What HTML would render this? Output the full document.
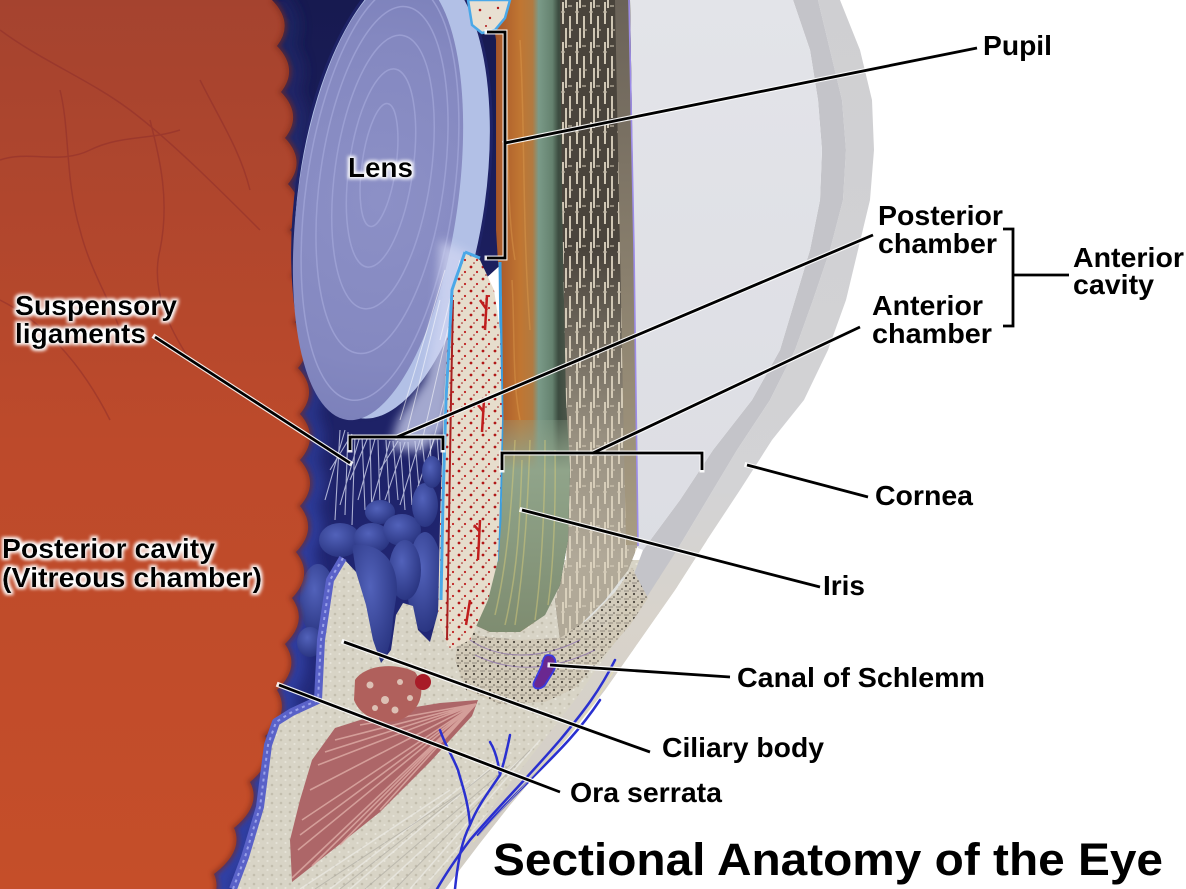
<!DOCTYPE html>
<html><head><meta charset="utf-8"><style>
html,body{margin:0;padding:0;background:#fff;}
svg{display:block;}
text{font-family:"Liberation Sans",Arial,sans-serif;font-weight:bold;fill:#000;}
</style></head><body>
<svg width="1186" height="889" viewBox="0 0 1186 889" xmlns="http://www.w3.org/2000/svg">
<defs>
<linearGradient id="gOr" x1="0" y1="0" x2="0" y2="889" gradientUnits="userSpaceOnUse">
<stop offset="0" stop-color="#a5432f"/><stop offset="0.5" stop-color="#bd4a2b"/><stop offset="1" stop-color="#c54e29"/></linearGradient>
<linearGradient id="gNavy" x1="0" y1="0" x2="0" y2="889" gradientUnits="userSpaceOnUse">
<stop offset="0" stop-color="#171a50"/><stop offset="0.5" stop-color="#1e2268"/><stop offset="1" stop-color="#252e88"/></linearGradient>
<linearGradient id="gGlow" x1="0" y1="0" x2="0" y2="889" gradientUnits="userSpaceOnUse">
<stop offset="0" stop-color="#1e2462"/><stop offset="0.35" stop-color="#26307e"/><stop offset="0.6" stop-color="#3040a2"/><stop offset="1" stop-color="#3444aa"/></linearGradient>
<radialGradient id="gLens" cx="380" cy="200" r="230" gradientUnits="userSpaceOnUse">
<stop offset="0" stop-color="#8c90c6"/><stop offset="0.7" stop-color="#8488c0"/><stop offset="1" stop-color="#7b80ba"/></radialGradient>
<linearGradient id="gIris" x1="490" y1="0" x2="566" y2="0" gradientUnits="userSpaceOnUse">
<stop offset="0" stop-color="#7a3c22"/><stop offset="0.1" stop-color="#a8582a"/><stop offset="0.4" stop-color="#c07632"/><stop offset="0.56" stop-color="#b27a40"/><stop offset="0.64" stop-color="#7a9a88"/><stop offset="0.82" stop-color="#65826f"/><stop offset="0.9" stop-color="#3c4c40"/><stop offset="1" stop-color="#4a5448"/></linearGradient>
<linearGradient id="gBulb" x1="0" y1="400" x2="0" y2="635" gradientUnits="userSpaceOnUse">
<stop offset="0" stop-color="#8ea28a" stop-opacity="0"/><stop offset="0.3" stop-color="#90a48a" stop-opacity="1"/><stop offset="1" stop-color="#7e8c70"/></linearGradient>
<linearGradient id="gOuter" x1="0" y1="0" x2="0" y2="889" gradientUnits="userSpaceOnUse">
<stop offset="0" stop-color="#cfcfd2"/><stop offset="0.55" stop-color="#d3d3d5"/><stop offset="0.7" stop-color="#d8d3cb"/><stop offset="1" stop-color="#d2cdc4"/></linearGradient>
<linearGradient id="gAC" x1="0" y1="0" x2="0" y2="560" gradientUnits="userSpaceOnUse">
<stop offset="0" stop-color="#e3e4e9"/><stop offset="1" stop-color="#dcdde3"/></linearGradient>
<linearGradient id="gTexLight" x1="0" y1="250" x2="0" y2="560" gradientUnits="userSpaceOnUse">
<stop offset="0" stop-color="#d8ceb8" stop-opacity="0"/><stop offset="0.6" stop-color="#d8ceb8" stop-opacity="0.55"/><stop offset="1" stop-color="#ddd4c0" stop-opacity="0.7"/></linearGradient>
<linearGradient id="gStrip" x1="0" y1="0" x2="0" y2="545" gradientUnits="userSpaceOnUse">
<stop offset="0" stop-color="#6a6258"/><stop offset="1" stop-color="#a89c82"/></linearGradient>
<radialGradient id="gBlob" cx="0.4" cy="0.35" r="0.7">
<stop offset="0" stop-color="#5262ba"/><stop offset="1" stop-color="#28337f"/></radialGradient>
<pattern id="tex" width="14" height="40" patternUnits="userSpaceOnUse">
<rect width="14" height="40" fill="#4a443c"/>
<path d="M3 2V24M10 16V38M6 28V40M6 0V8" stroke="#cfc6b4" stroke-width="2"/>
<path d="M1 12H5M8 6H12M9 30H13" stroke="#bdb4a2" stroke-width="1.2"/>
</pattern>
<pattern id="dots" width="12" height="12" patternUnits="userSpaceOnUse">
<rect width="12" height="12" fill="#e6ddcc"/>
<circle cx="3" cy="3" r="1.4" fill="#b01818"/><circle cx="9" cy="8" r="1.1" fill="#c02020"/><circle cx="6" cy="11" r="0.8" fill="#a01818"/>
</pattern>
<pattern id="mot" width="9" height="9" patternUnits="userSpaceOnUse">
<rect width="9" height="9" fill="#d8d4c6"/>
<circle cx="2" cy="2" r="1.3" fill="#c3beae"/><circle cx="6.5" cy="6" r="1.1" fill="#e6e3d8"/>
</pattern>
<pattern id="spong" width="8" height="8" patternUnits="userSpaceOnUse">
<rect width="8" height="8" fill="#d2cab8"/>
<circle cx="2" cy="2" r="1.1" fill="#3a342c"/><circle cx="6" cy="5" r="0.8" fill="#4a4238"/><path d="M0 7H5" stroke="#6a6258" stroke-width="0.7"/>
</pattern>
<filter id="blur6" x="-20%" y="-5%" width="140%" height="110%"><feGaussianBlur stdDeviation="6"/></filter>
<filter id="blur2"><feGaussianBlur stdDeviation="2"/></filter>
<filter id="blur5" x="-30%" y="-30%" width="160%" height="160%"><feGaussianBlur stdDeviation="5"/></filter>
<filter id="halo" x="-20%" y="-50%" width="140%" height="200%">
<feMorphology in="SourceAlpha" operator="dilate" radius="2" result="d"/>
<feGaussianBlur in="d" stdDeviation="1.5" result="b"/>
<feFlood flood-color="#ffffff"/>
<feComposite in2="b" operator="in" result="w"/>
<feMerge><feMergeNode in="w"/><feMergeNode in="SourceGraphic"/></feMerge>
</filter>
<clipPath id="cTex"><path d="M558 0 L630 0 L635 300 L638 545 L628 570 L605 600 L580 625 L560 640 L555 600 L566 560 L568 480 L565 400 L560 250 Z"/></clipPath>
</defs>

<rect width="1186" height="889" fill="#fff"/>

<!-- navy background -->
<path d="M150,-5 L512,-5 L506,260 L462,300 L448,560 L448,690 L350,690 L320,720 L272,889 L150,895 Z" fill="url(#gNavy)"/>

<!-- glow along orange edge -->
<path d="M272,0 Q294.5,23 277,46 Q299,69 281,92 Q303,115 285,138 Q306.5,161 288,184 Q309,207 290,230 Q311.5,253 293,276 Q314,299 295,322 Q316.5,345 298,368 Q319,391 300,414 Q320,437 300,460 Q320,483 300,506 Q318,529 296,552 Q314,575 292,598 Q308.5,621 285,644 Q301,667 277,690 Q291,713 265,736 Q277.5,759 250,782 Q262,805 234,828 Q244,851 214,874 Q224,897 194,920" fill="none" stroke="url(#gGlow)" stroke-width="30" opacity="0.85" filter="url(#blur6)"/>

<!-- suspensory ligament fibers -->
<g stroke="#e8ecff" stroke-width="1.1" opacity="0.7" fill="none">
<path d="M340 430L335 520M348 432L345 515M355 435L352 525M362 436L365 510M370 438L372 520M378 440L380 505M386 440L390 515M393 441L398 500M400 442L405 510M408 442L412 505M415 441L420 500M422 440L428 495M430 438L432 490M437 436L440 480M345 430L325 500M360 436L340 505M375 439L358 500M390 441L370 510M405 442L385 500M420 440L400 505M435 437L415 495M352 434L330 470M368 437L350 480M398 441L380 470"/>
</g>

<!-- blue blobs (ciliary processes) -->
<g fill="url(#gBlob)">
<ellipse cx="318" cy="600" rx="18" ry="36"/>
<ellipse cx="310" cy="642" rx="13" ry="15"/>
<ellipse cx="340" cy="540" rx="21" ry="17"/>
<ellipse cx="372" cy="538" rx="18" ry="15"/>
<ellipse cx="380" cy="512" rx="15" ry="12"/>
<ellipse cx="402" cy="530" rx="19" ry="16"/>
<ellipse cx="425" cy="505" rx="13" ry="22"/>
<ellipse cx="432" cy="472" rx="10" ry="16"/>
<ellipse cx="425" cy="582" rx="18" ry="50"/>
<ellipse cx="405" cy="570" rx="16" ry="30"/>
<path d="M352 545 C380 542 398 560 397 592 L393 618 C392 642 386 660 380 664 C372 650 366 622 360 600 Z"/>
</g>

<!-- orange region -->
<path d="M-10,-10 L272,-10 L272,0 Q294.5,23 277,46 Q299,69 281,92 Q303,115 285,138 Q306.5,161 288,184 Q309,207 290,230 Q311.5,253 293,276 Q314,299 295,322 Q316.5,345 298,368 Q319,391 300,414 Q320,437 300,460 Q320,483 300,506 Q318,529 296,552 Q314,575 292,598 Q308.5,621 285,644 Q301,667 277,690 Q291,713 265,736 Q277.5,759 250,782 Q262,805 234,828 Q244,851 214,874 Q224,897 194,920 L-10,920 Z" fill="url(#gOr)"/>
<path d="M272,0 Q294.5,23 277,46 Q299,69 281,92 Q303,115 285,138 Q306.5,161 288,184 Q309,207 290,230 Q311.5,253 293,276 Q314,299 295,322 Q316.5,345 298,368 Q319,391 300,414 Q320,437 300,460 Q320,483 300,506 Q318,529 296,552 Q314,575 292,598 Q308.5,621 285,644 Q301,667 277,690 Q291,713 265,736 Q277.5,759 250,782 Q262,805 234,828 Q244,851 214,874 Q224,897 194,920" fill="none" stroke="#7e2a1e" stroke-width="5" opacity="0.6" filter="url(#blur2)"/>
<!-- faint veins -->
<g fill="none" stroke="#8a2a2a" stroke-width="1.5" opacity="0.45">
<path d="M0 30 C40 60 90 80 130 110 C170 140 220 190 260 230"/>
<path d="M0 160 C30 150 60 165 90 150 C120 135 150 140 180 130"/>
<path d="M60 90 C70 130 65 180 80 230 C90 270 110 300 120 330"/>
<path d="M150 120 C160 160 170 200 160 250 C150 290 170 330 190 360"/>
<path d="M0 300 C40 320 80 360 110 420"/>
<path d="M200 80 C220 120 240 150 250 190"/>
</g>

<!-- beige ciliary body / sclera lower region -->
<path d="M343 558 L356 572 L366 605 L373 640 L381 663 L391 650 L396 615 L403 603 L413 606 L418 630 L430 642 L438 612 L442 560 L505 560 L640 560 L707 540 L675 590 L640 640 L605 690 L570 735 L540 770 L510 805 L480 843 L445 889 L233 889 L245 857 L260 807 L268 745 L276 722 L292 712 L318 702 L321 640 L330 580 Z" fill="url(#mot)"/>
<!-- fibrous streaks lower -->
<g stroke="#ecebe6" stroke-width="1.5" opacity="0.7" fill="none">
<path d="M520 760 L380 889M500 760 L350 889M540 740 L410 889M470 780 L330 889M560 730 L430 880M450 790 L300 889"/>
</g>
<g stroke="#aaa69e" stroke-width="1" opacity="0.6" fill="none">
<path d="M510 765 L365 889M490 770 L340 889M530 750 L395 889M465 790 L315 889"/>
</g>
<!-- retina band along sclera edge -->
<path d="M343,558 L330,580 L321,640 L318,700 L292,712 L276,722 L268,745 L260,807 L245,857 L233,889" fill="none" stroke="#5a62c8" stroke-width="8" stroke-linejoin="round"/>
<path d="M343,558 L330,580 L321,640 L318,700 L292,712 L276,722 L268,745 L260,807 L245,857 L233,889" fill="none" stroke="#9aa2ea" stroke-width="2" stroke-dasharray="3 4"/>

<!-- muscle fan -->
<path d="M478,700 L440,703 L385,712 L335,728 L312,760 L300,800 L290,840 L292,882 L330,852 L380,812 L430,762 L472,716 Z" fill="#ad6668"/>
<g stroke="#dba8a2" stroke-width="1.6" opacity="0.85" fill="none">
<path d="M476 704L292 878M476 704L298 850M476 704L302 820M476 704L310 790M476 704L318 765M476 704L335 740M476 704L360 725M476 704L312 866M476 704L340 845M476 704L380 810M476 704L300 835M476 704L325 752"/>
</g>
<!-- red mottled patch -->
<path d="M355 680 C365 665 395 662 415 672 C428 690 420 712 400 720 C380 726 360 716 354 700 Z" fill="#b0605c"/>
<g fill="#dcc0b4"><circle cx="370" cy="685" r="3.5"/><circle cx="385" cy="700" r="4"/><circle cx="400" cy="682" r="3"/><circle cx="395" cy="710" r="3.5"/><circle cx="375" cy="708" r="3"/><circle cx="410" cy="698" r="3"/></g>
<ellipse cx="423" cy="682" rx="8" ry="8" fill="#a81c28"/>

<!-- cornea outer band -->
<path d="M840,0 L860,50 L872,100 L874,150 L870,200 L858,250 L846,300 L828,350 L804,400 L772,440 L740,490 L707,540 L675,590 L640,640 L605,690 L570,735 L540,770 L510,805 L480,843 L445,889 L428,889 L445,870 L475,830 L505,790 L540,745 L575,700 L610,650 L645,600 L677,550 L707,500 L737,450 L770,400 L795,350 L813,300 L830,250 L843,200 L846,150 L842,100 L818,0 Z" fill="url(#gOuter)"/>
<!-- cornea inner darker band -->
<path d="M818,0 L842,100 L846,150 L843,200 L830,250 L813,300 L795,350 L770,400 L737,450 L707,500 L677,550 L645,600 L628,590 L643,550 L680,500 L713,450 L752,400 L780,350 L795,300 L810,250 L820,200 L822,150 L818,100 L810,50 L793,0 Z" fill="#c4c4c9"/>
<!-- anterior chamber light -->
<path d="M628,0 L793,0 L810,50 L818,100 L822,150 L820,200 L810,250 L795,300 L780,350 L752,400 L713,450 L680,500 L643,550 L638,548 L635,300 Z" fill="url(#gAC)"/>
<ellipse cx="605" cy="605" rx="14" ry="34" transform="rotate(35 605 605)" fill="#e6e9ef" opacity="0.6"/>

<!-- textured band -->
<path d="M558 0 L630 0 L635 300 L638 545 L628 570 L605 600 L580 625 L560 640 L555 600 L566 560 L568 480 L565 400 L560 250 Z" fill="url(#tex)"/>
<rect x="550" y="250" width="95" height="400" fill="url(#gTexLight)" clip-path="url(#cTex)"/>
<path d="M615,0 L630,0 L635,300 L638,545 L626,545 L621,300 Z" fill="url(#gStrip)"/>
<path d="M629 0 L634 250 L638 546" fill="none" stroke="#9c8ce8" stroke-width="1.6"/>

<!-- spongy trabecular region -->
<path d="M460 620 L480 636 L520 640 L560 638 L590 618 L615 592 L632 568 L648 598 L630 625 L600 660 L575 688 L545 702 L500 704 L466 690 L455 660 Z" fill="url(#spong)" opacity="0.9"/>
<g stroke="#7a5aa8" stroke-width="1" opacity="0.6" fill="none"><path d="M470 640 C500 660 540 660 580 640M475 655 C510 672 550 672 595 650"/></g>

<!-- iris -->
<path d="M490 0 L560 0 L562 200 L566 400 L570 470 L568 540 L560 585 L545 615 L520 632 L490 632 L468 622 L470 605 L485 585 L497 560 L502 500 L502 300 L498 262 L496 230 L496 40 Z" fill="url(#gIris)"/>
<path d="M500 420 L568 420 L570 470 L568 540 L560 585 L545 615 L520 632 L490 632 L468 622 L470 605 L485 585 L497 560 L502 500 Z" fill="url(#gBulb)"/>
<g stroke="#d6cc7a" stroke-width="1.5" opacity="0.5" fill="none">
<path d="M515 440 C512 500 508 560 495 615M530 440 C528 500 525 560 515 625M545 440 C545 500 542 570 535 620M555 450 C556 510 553 570 548 605M522 460 C520 520 518 570 505 625"/>
</g>
<g stroke="#e0a050" stroke-width="1.5" opacity="0.4" fill="none">
<path d="M505 60 C510 120 505 200 515 260M520 40 C525 120 522 220 530 330M512 280 C515 330 512 380 520 420"/>
</g>
<path d="M500 262 L502 420 L500 520 L497 560 L485 585 L470 605 L466 620" fill="none" stroke="#3a9ee0" stroke-width="3"/>

<!-- lens -->
<ellipse cx="392" cy="192" rx="95" ry="230" transform="rotate(8 392 192)" fill="#b2c0e6" stroke="#1e2266" stroke-width="3"/>
<ellipse cx="378" cy="198" rx="80" ry="224" transform="rotate(8 378 198)" fill="url(#gLens)"/>
<g fill="none" stroke="#a4a8da" stroke-width="1.5" opacity="0.7">
<ellipse cx="379" cy="165" rx="17" ry="62" transform="rotate(8 379 165)"/>
<ellipse cx="381" cy="168" rx="32" ry="100" transform="rotate(8 381 168)"/>
<ellipse cx="383" cy="172" rx="48" ry="138" transform="rotate(8 383 172)"/>
<ellipse cx="382" cy="180" rx="62" ry="175" transform="rotate(8 382 180)"/>
<ellipse cx="380" cy="192" rx="74" ry="210" transform="rotate(8 380 192)"/>
</g>
<!-- light fiber zone near lens bottom right -->
<path d="M440,240 L472,255 L466,300 L455,360 L446,430 L420,452 L390,448 L398,420 L425,380 L438,300 Z" fill="#d0d5f2" opacity="0.75" filter="url(#blur5)"/>
<g stroke="#ffffff" stroke-width="1" opacity="0.55" fill="none">
<path d="M440 300 L405 440M450 320 L420 450M455 360 L430 452M445 270 L400 420M460 260 L440 340"/>
</g>

<!-- ciliary column with red dots -->
<path d="M465,252 L480,260 L494,290 L500,330 L502,420 L500,500 L498,560 L488,600 L470,640 L450,650 L438,620 L440,520 L444,400 L450,300 Z" fill="url(#dots)"/>
<path d="M453 300 L451 400 L449 520 L447 640" fill="none" stroke="#a82020" stroke-width="2"/>
<g stroke="#c01e1e" stroke-width="2.5" fill="none">
<path d="M487 295 L485 330M480 300 L487 310M484 400 L482 432M478 405 L484 412M480 520 L478 560M474 525 L480 532M470 600 L466 625"/>
</g>
<path d="M465,252 L452,290 L446,400 L443,500 L441,600" fill="none" stroke="#4aa8e8" stroke-width="3"/>
<path d="M465,252 L480,258" fill="none" stroke="#4aa8e8" stroke-width="3"/>

<!-- upper iris/pupil tip -->
<path d="M468,0 L510,0 L505,18 L495,30 L482,33 L472,25 Z" fill="#e8e0d2" stroke="#4aa8e8" stroke-width="2.5"/>
<g fill="#b01818"><circle cx="480" cy="10" r="1.3"/><circle cx="490" cy="18" r="1.2"/><circle cx="498" cy="8" r="1.2"/><circle cx="486" cy="26" r="1"/></g>

<!-- vessels -->
<g fill="none" stroke="#2a30d0" stroke-width="2.5" stroke-linecap="round">
<path d="M615 660 C600 690 585 710 560 740 C530 775 500 805 470 840 C455 860 445 875 437 889"/>
<path d="M600 700 C580 730 560 750 535 775 C515 795 495 815 478 835"/>
<path d="M455 889 C458 860 462 840 470 825 C468 800 462 785 458 770 M470 825 C478 805 490 790 500 775 C505 760 508 745 510 735 M458 770 C452 755 445 745 440 730 M500 775 C498 760 495 750 490 742"/>
</g>
<g fill="none" stroke="#f0e8a0" stroke-width="0.8" opacity="0.7"><path d="M618 662 C603 692 588 712 563 742 C533 777 503 807 473 842"/></g>
<!-- canal of Schlemm -->
<path d="M548 655 C557 655 557 665 553 672 L545 685 C540 691 531 689 534 682 L542 665 C543 658 545 655 548 655 Z" fill="#6a2890" stroke="#3a3ae0" stroke-width="1.8"/>

<!-- leader lines: white casing -->
<g fill="none" stroke="#ffffff" stroke-width="5" stroke-linecap="square" opacity="0.9">
<path d="M505,143 L977,48"/>
<path d="M487 32 H505 V258 H487"/>
<path d="M397,437 L873,235"/>
<path d="M350 450 V437 H443 V450"/>
<path d="M593,453 L860,327"/>
<path d="M502 470 V453 H702 V470"/>
<path d="M747,465 L868,497"/>
<path d="M522,510 L820,587"/>
<path d="M550,665 L730,677"/>
<path d="M344,642 L650,752"/>
<path d="M279,685 L560,792"/>
<path d="M155,337 L350,463"/>
</g>
<g fill="none" stroke="#000" stroke-width="2.8">
<path d="M505,143 L977,48"/>
<path d="M487 32 H505 V258 H487"/>
<path d="M397,437 L873,235"/>
<path d="M350 450 V437 H443 V450"/>
<path d="M593,453 L860,327"/>
<path d="M502 470 V453 H702 V470"/>
<path d="M1003 229 H1013 V326 H1003"/>
<path d="M1013 275 H1069"/>
<path d="M747,465 L868,497"/>
<path d="M522,510 L820,587"/>
<path d="M550,665 L730,677"/>
<path d="M344,642 L650,752"/>
<path d="M279,685 L560,792"/>
<path d="M155,337 L350,463"/>
</g>

<!-- labels with halo -->
<g filter="url(#halo)" font-size="28">
<text x="348" y="177" textLength="65" lengthAdjust="spacingAndGlyphs">Lens</text>
<text x="15" y="315" textLength="162" lengthAdjust="spacingAndGlyphs">Suspensory</text>
<text x="15" y="343" textLength="131" lengthAdjust="spacingAndGlyphs">ligaments</text>
<text x="2" y="558" textLength="213" lengthAdjust="spacingAndGlyphs">Posterior cavity</text>
<text x="2" y="587" textLength="260" lengthAdjust="spacingAndGlyphs">(Vitreous chamber)</text>
</g>
<!-- right labels -->
<g font-size="28">
<text x="983" y="55" textLength="69" lengthAdjust="spacingAndGlyphs">Pupil</text>
<text x="878" y="225" textLength="125" lengthAdjust="spacingAndGlyphs">Posterior</text>
<text x="878" y="253" textLength="119" lengthAdjust="spacingAndGlyphs">chamber</text>
<text x="872" y="315" textLength="111" lengthAdjust="spacingAndGlyphs">Anterior</text>
<text x="872" y="343" textLength="120" lengthAdjust="spacingAndGlyphs">chamber</text>
<text x="1073" y="267" textLength="111" lengthAdjust="spacingAndGlyphs">Anterior</text>
<text x="1073" y="294" textLength="81" lengthAdjust="spacingAndGlyphs">cavity</text>
<text x="875" y="505" textLength="98" lengthAdjust="spacingAndGlyphs">Cornea</text>
<text x="823" y="595" textLength="42" lengthAdjust="spacingAndGlyphs">Iris</text>
<text x="737" y="687" textLength="248" lengthAdjust="spacingAndGlyphs">Canal of Schlemm</text>
<text x="662" y="757" textLength="162" lengthAdjust="spacingAndGlyphs">Ciliary body</text>
<text x="570" y="802" textLength="152" lengthAdjust="spacingAndGlyphs">Ora serrata</text>
</g>
<text x="493" y="875" font-size="45" textLength="670" lengthAdjust="spacingAndGlyphs">Sectional Anatomy of the Eye</text>
</svg>
</body></html>
